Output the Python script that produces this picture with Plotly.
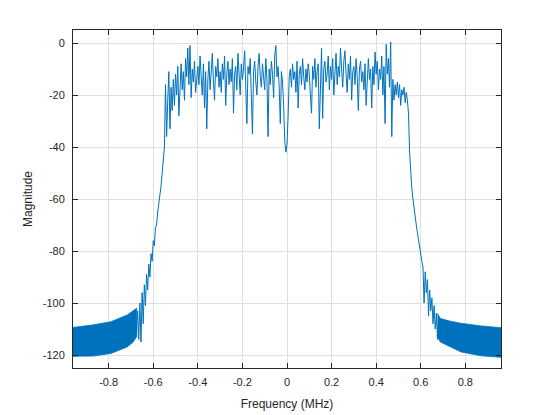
import numpy as np
import plotly.graph_objects as go

# MATLAB-like defaults
LINE_BLUE = "#0072BD"
AXIS_GREY = "#262626"
GRID_GREY = "#DFDFDF"

# Lower skirt, -0.69 .. -0.555 MHz (step 0.005)
left_skirt_db = [
    -106, -112, -104, -113, -103, -114, -100, -115, -96, -108,
    -93, -101, -89, -95, -85, -90, -81, -84, -76, -78,
    -71, -70, -65, -62, -58, -55, -50, -46,
]

# Occupied band, -0.55 .. 0.55 MHz (step 0.005)
band_db = [
    -40, -16, -36, -22, -11, -33, -17, -26, -14, -24,
    -12, -20, -9, -28, -14, -8, -18, -11, -22, -6,
    -13, -2, -16, -1, -21, -10, -15, -7, -19, -12,
    -9, -16, -5, -13, -20, -8, -25, -11, -33, -14,
    -7, -18, -10, -4, -15, -22, -9, -13, -6, -17,
    -11, -19, -8, -14, -5, -24, -12, -7, -16, -10,
    -15, -6, -27, -12, -9, -18, -4, -13, -20, -8,
    -14, -10, -3, -17, -31, -9, -12, -6, -19, -35,
    -11, -7, -15, -20, -9, -4, -13, -17, -8, -12,
    -18, -6, -14, -36, -10, -16, -7, -12, -21, -5,
    -1, -13, -9, -17, -31, -11, -15, -24, -38, -42,
    -39, -28, -13, -10, -17, -8, -14, -11, -19, -7,
    -25, -12, -9, -16, -6, -13, -18, -10, -15, -8,
    -12, -20, -27, -9, -14, -6, -17, -11, -8, -33,
    -13, -2, -29, -10, -7, -15, -12, -5, -18, -9,
    -14, -6, -20, -11, -4, -16, -9, -13, -2, -10,
    -17, -7, -3, -12, -19, -8, -14, -5, -22, -11,
    -9, -16, -6, -13, -26, -10, -7, -15, -11, -18,
    -8, -24, -12, -6, -14, -10, -25, -9, -16, -3.5,
    -12, -7, -18, -10, -14, -5, -20, -9, -31, -0.5,
    -12, -6, -17, 0.4, -36, -14, -22, -16, -20, -15,
    -21, -16, -24, -18, -20, -17, -23, -19, -22, -27,
    -42,
]

# Upper skirt, 0.555 .. 0.69 MHz (step 0.005)
right_skirt_db = [
    -50, -56, -60, -64, -66, -70, -73, -76, -79, -81,
    -84, -86, -100, -88, -96, -91, -105, -95, -103, -98,
    -108, -101, -110, -104, -114, -106, -114, -106,
]

# Out-of-band floor: envelope of the fast ripple
left_floor_f = [-0.96, -0.867, -0.79, -0.717, -0.69, -0.675]
left_floor_hi = [-109.4, -108.4, -107.2, -104.6, -103, -102]
left_floor_lo = [-120.5, -120.4, -119.4, -116.9, -115, -113]

right_floor_f = [0.675, 0.688, 0.733, 0.78, 0.87, 0.96]
right_floor_hi = [-104, -106, -107, -107.8, -108.8, -109.5]
right_floor_lo = [-113, -115, -116.9, -118.8, -120.3, -120.9]

STEP = 0.005
f_left = -0.69 + STEP * np.arange(len(left_skirt_db))
f_band = -0.55 + STEP * np.arange(len(band_db))
f_right = 0.555 + STEP * np.arange(len(right_skirt_db))

freq = np.concatenate([f_left, f_band, f_right])
mag = np.concatenate([left_skirt_db, band_db, right_skirt_db])

fig = go.Figure()

for ff, hi, lo in ((left_floor_f, left_floor_hi, left_floor_lo),
                   (right_floor_f, right_floor_hi, right_floor_lo)):
    fig.add_trace(go.Scatter(
        x=list(ff) + list(ff)[::-1],
        y=list(hi) + list(lo)[::-1],
        mode="lines",
        fill="toself",
        fillcolor=LINE_BLUE,
        line=dict(color=LINE_BLUE, width=0.8),
        hoverinfo="skip",
        showlegend=False,
    ))

fig.add_trace(go.Scatter(
    x=freq,
    y=mag,
    mode="lines",
    line=dict(color=LINE_BLUE, width=1),
    showlegend=False,
))

x_ticks = [-0.8, -0.6, -0.4, -0.2, 0, 0.2, 0.4, 0.6, 0.8]
y_ticks = [-120, -100, -80, -60, -40, -20, 0]

axis_common = dict(
    showline=True,
    linecolor=AXIS_GREY,
    linewidth=1,
    mirror="ticks",
    ticks="inside",
    ticklen=5,
    tickcolor=AXIS_GREY,
    showgrid=True,
    gridcolor=GRID_GREY,
    gridwidth=1,
    zeroline=False,
    automargin=False,
    tickfont=dict(size=11, color=AXIS_GREY),
)

fig.update_xaxes(
    range=[-0.96, 0.96],
    tickvals=x_ticks,
    ticktext=[("%g" % v) for v in x_ticks],
    ticklabelstandoff=4,
    title=dict(text="Frequency (MHz)", font=dict(size=12, color=AXIS_GREY), standoff=12),
    **axis_common,
)
fig.update_yaxes(
    range=[-125, 5],
    tickvals=y_ticks,
    ticktext=[str(v) for v in y_ticks],
    ticklabelstandoff=5,
    title=dict(text="Magnitude", font=dict(size=12, color=AXIS_GREY), standoff=7),
    **axis_common,
)

# page body adds an 8px offset, so the figure is 8px smaller than the window
fig.update_layout(
    width=546,
    height=407,
    paper_bgcolor="white",
    plot_bgcolor="white",
    font=dict(family="Arial, Helvetica, sans-serif", size=11, color=AXIS_GREY),
    margin=dict(l=65, r=53, t=22, b=47),
)

fig.write_html("out.html")
